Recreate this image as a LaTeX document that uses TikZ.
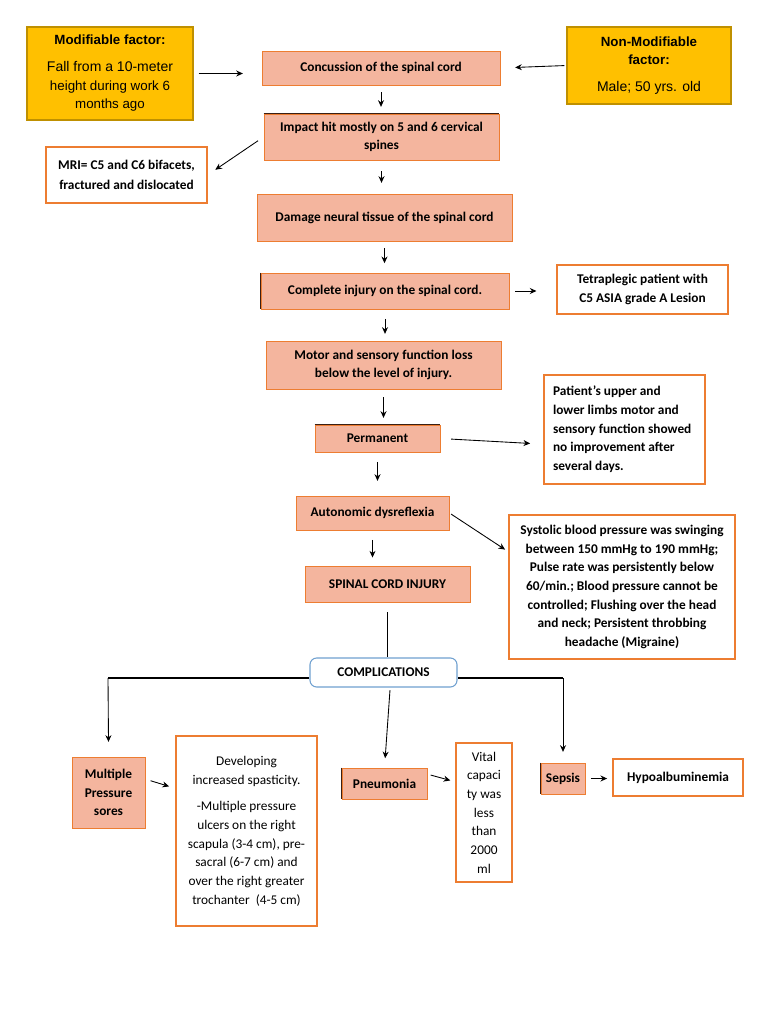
\documentclass[tikz,border=0pt]{standalone}
\usepackage{fontspec}
\setmainfont{Carlito}
\newfontfamily\arialfont{Liberation Sans}
\usetikzlibrary{arrows.meta,calc}

\definecolor{salmon}{HTML}{F4B59E}
\definecolor{orangeline}{HTML}{ED7D31}
\definecolor{gold}{HTML}{FFC000}
\definecolor{goldline}{HTML}{BF9000}
\definecolor{blueline}{HTML}{6FA0D0}
\definecolor{darkedge}{HTML}{3B1F14}

\tikzset{
  cause/.style={draw=orangeline, fill=salmon, line width=0.7pt, inner sep=0pt,
    align=center, font=\bfseries},
  factor/.style={draw=goldline, fill=gold, line width=0.8pt, inner sep=0pt,
    align=center, font=\arialfont},
  note/.style={draw=orangeline, fill=white, line width=0.8pt, inner sep=0pt,
    align=center, font=\bfseries},
  link/.style={-{Stealth[length=5pt,width=4.5pt]}, line width=0.65pt},
  edge/.style={line width=1pt, darkedge},
}

\begin{document}
\begin{tikzpicture}[x=0.75pt,y=-0.75pt]
		\fontsize{10}{14}\selectfont
		\useasboundingbox (0,0) rectangle (768,1024);

		% causes
		\node [factor, minimum width=0.75*166pt, minimum height=0.75*93pt] (mod) at (110,73.5)
			{\textbf{Modifiable factor:}\\[6pt] \fontsize{10.5}{12.8}\selectfont Fall from a 10-meter\\ height during work 6\\ months ago};
		\node [factor, minimum width=0.75*164pt, minimum height=0.75*77pt] (nonmod) at (649,65.5)
			{\textbf{Non-Modifiable}\\ \textbf{factor:}\\[6pt] \fontsize{10.5}{12.8}\selectfont Male; 50 yrs. old};

		\node [cause, minimum width=0.75*238pt, minimum height=0.75*34pt] (conc) at (381,68) {Concussion of the spinal cord};
		\node [cause, minimum width=0.75*235pt, minimum height=0.75*46pt] (impact) at (381.5,137) {Impact hit mostly on 5 and 6 cervical\\ spines};
		\node [note, minimum width=0.75*161pt, minimum height=0.75*56pt] (mri) at (126.5,175) {MRI= C5 and C6 bifacets,\\[1pt] fractured and dislocated};
		\node [cause, minimum width=0.75*255pt, minimum height=0.75*47pt] (damage) at (384.5,217.5) {Damage neural tissue of the spinal cord};
		\node [cause, minimum width=0.75*248pt, minimum height=0.75*36pt] (complete) at (385,291) {Complete injury on the spinal cord.};
		\node [note, minimum width=0.75*171pt, minimum height=0.75*49pt] (tetra) at (642.5,289.5) {Tetraplegic patient with\\ C5 ASIA grade A Lesion};
		\node [cause, minimum width=0.75*235pt, minimum height=0.75*48pt] (motor) at (383.5,365) {Motor and sensory function loss\\ below the level of injury.};
		\node [cause, minimum width=0.75*125pt, minimum height=0.75*27pt] (perm) at (377.5,438.5) {Permanent};
		\node [note, align=flush left, text width=0.75*143pt, minimum width=0.75*161pt, minimum height=0.75*109pt] (patient) at (624.5,429.5)
			{Patient's upper and\\ lower limbs motor and\\ \mbox{sensory function showed}\\ no improvement after\\ several days.};
		\node [cause, minimum width=0.75*153pt, minimum height=0.75*34pt] (auto) at (372.5,513) {Autonomic dysreflexia};
		\node [note, minimum width=0.75*226pt, minimum height=0.75*144pt] (systolic) at (622,587)
			{Systolic blood pressure was swinging\\ between 150 mmHg to 190 mmHg;\\ Pulse rate was persistently below\\ 60/min.; Blood pressure cannot be\\ controlled; Flushing over the head\\ and neck; Persistent throbbing\\ headache (Migraine)};
		\node [cause, minimum width=0.75*165pt, minimum height=0.75*36pt] (scord) at (387.5,584) {SPINAL CORD INJURY};

		% complications
		\node [draw=blueline, fill=white, rounded corners=5pt, line width=0.8pt, font=\bfseries,
			minimum width=0.75*147pt, minimum height=0.75*29pt] (comp) at (383.5,672.5) {COMPLICATIONS};
		\node [cause, minimum width=0.75*73pt, minimum height=0.75*71pt] (mps) at (108.5,792.5) {Multiple\\ Pressure\\ sores};
		\node [note, font=\normalfont, minimum width=0.75*141pt, minimum height=0.75*190pt] (dev) at (246.5,831)
			{Developing\\ increased spasticity.\\[6pt] -Multiple pressure\\ ulcers on the right\\ scapula (3-4 cm), pre-\\ sacral (6-7 cm) and\\ over the right greater\\ trochanter\ \ (4-5 cm)};
		\node [cause, minimum width=0.75*85pt, minimum height=0.75*31pt] (pneu) at (384.5,783.5) {Pneumonia};
		\node [note, font=\normalfont, minimum width=0.75*56pt, minimum height=0.75*139pt] (vital) at (484,812.5)
			{Vital\\ capaci\\ ty was\\ less\\ than\\ 2000\\ ml};
		\node [cause, minimum width=0.75*44pt, minimum height=0.75*31pt] (sepsis) at (563,778.5) {Sepsis};
		\node [note, minimum width=0.75*130pt, minimum height=0.75*37pt] (hypo) at (678,777.5) {Hypoalbuminemia};

		% dark edges
		\draw [edge] (impact.north west)--(impact.north east);
		\draw [edge] (complete.north west)--(complete.south west);
		\draw [edge] (perm.north west)--(perm.north east);
		\draw [edge] (pneu.north west)--(pneu.south west);
		\draw [edge] (sepsis.north west)--(sepsis.south west);

		% arrows
		\draw [link, shorten <=3.75pt, shorten >=14pt] (mod.east)--(mod.east -| conc.west);
		\draw [link, shorten <=1.5pt, shorten >=11pt] (nonmod.west)--(conc.east);
		\draw [link, shorten <=5pt, shorten >=5pt] (conc.south)--(conc.south |- impact.north);
		\draw [link, shorten <=5pt, shorten >=7pt] (impact.west)--(mri.east);
		\draw [link, shorten <=8pt, shorten >=8pt] (impact.south)--(impact.south |- damage.north);
		\draw [link, shorten <=5pt, shorten >=7pt] (damage.south)--(damage.south |- complete.north);
		\draw [link, shorten <=4.5pt, shorten >=15pt] (complete.east)--(complete.east -| tetra.west);
		\draw [link, shorten <=7pt, shorten >=5pt] (complete.south)--(complete.south |- motor.north);
		\draw [link, shorten <=6pt, shorten >=5pt] (motor.south)--(motor.south |- perm.north);
		\draw [link, shorten <=8pt, shorten >=10pt] (perm.east)--([yshift=-11pt]patient.west);
		\draw [link, shorten <=7pt, shorten >=11pt] (perm.south)--(perm.south |- auto.north);
		\draw [link, shorten <=1.5pt, shorten >=3pt] (auto.east)--([yshift=-28pt]systolic.north west);
		\draw [link, shorten <=7pt, shorten >=6pt] (auto.south)--(auto.south |- scord.north);

		\coordinate (lt) at (108,678);
		\coordinate (rt) at (563,678);
		\draw [line width=1.1pt, shorten <=7.5pt] (scord.south)--(scord.south |- comp.north);
		\draw [line width=1.1pt] (lt)--(lt -| comp.west);
		\draw [line width=1.1pt] (rt)--(rt -| comp.east);
		\draw [link] (lt)--([yshift=11pt]mps.north);
		\draw [link] (rt)--([yshift=8pt]sepsis.north);
		\draw [link, shorten <=2pt, shorten >=7pt] ([xshift=5pt]comp.south)--(pneu.north);

		\draw [link, shorten <=4pt, shorten >=5pt] ([yshift=10pt]mps.east)--([yshift=32pt]dev.west);
		\draw [link, shorten <=2.5pt, shorten >=4pt] ([yshift=7pt]pneu.east)--([yshift=23pt]vital.west);
		\draw [link, shorten <=4pt, shorten >=4pt] (sepsis.east)--(sepsis.east -| hypo.west);

\end{tikzpicture}
\end{document}
